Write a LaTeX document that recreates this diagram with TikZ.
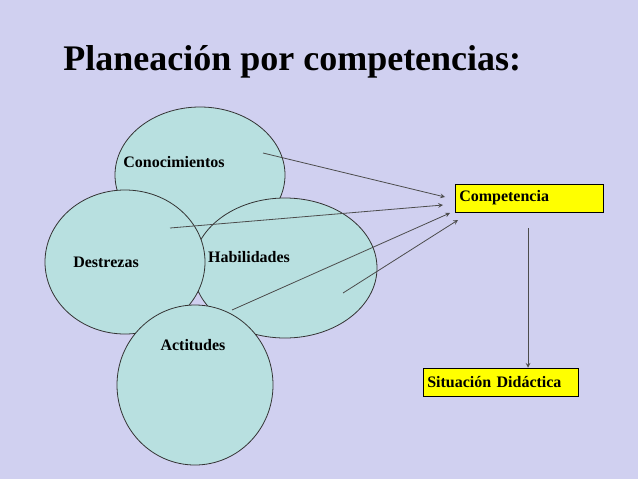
\documentclass[tikz,border=0pt]{standalone}
\usepackage{fontspec}
\setmainfont{Liberation Serif}
\definecolor{bg}{HTML}{D0D0F0}
\definecolor{cir}{HTML}{B8E0E0}
\definecolor{box}{HTML}{FFFF00}
\begin{document}
\begin{tikzpicture}[x=0.75pt,y=-0.75pt,
  blob/.style={draw=black!80,fill=cir,line width=0.6pt},
  lbl/.style={font=\bfseries\fontsize{12}{14}\selectfont,inner sep=0pt},
  tbox/.style={draw=black,fill=box,font=\bfseries\fontsize{12}{14}\selectfont,anchor=west,align=left,text width=#1,inner xsep=3pt,minimum height=21pt},
  arr/.style={->,>=stealth,draw=black!70,line width=0.6pt}]
\fill[bg] (0,0) rectangle (638,479);
\useasboundingbox (0,0) rectangle (638,479);
\node[anchor=west,font=\bfseries\fontsize{27}{31}\selectfont,inner sep=0pt] (title) at (63,62) {Planeación por competencias:};
\draw[blob] (200,175) ellipse [x radius=85, y radius=68];
\draw[blob] (285,268) ellipse [x radius=92, y radius=70];
\draw[blob] (125,262) ellipse [x radius=80, y radius=72];
\draw[blob] (195,385) ellipse [x radius=78, y radius=80];
\node[lbl] (con) at (174,162) {Conocimientos};
\node[lbl] (des) at (106,262) {Destrezas};
\node[lbl] (hab) at (249,257) {Habilidades};
\node[lbl] (act) at (193,345) {Actitudes};
\node[tbox=105pt] (comp) at (455,198) {Competencia};
\node[tbox=110pt] (sit) at (423,382) {Situación Didáctica};
\coordinate (a1) at (263,153); \coordinate (b1) at (445,197);
\coordinate (a2) at (170,228); \coordinate (b2) at (443,205);
\coordinate (a3) at (232,310); \coordinate (b3) at (450,213);
\coordinate (a4) at (343,293); \coordinate (b4) at (458,220);
\draw[arr] (a1) -- (b1);
\draw[arr] (a2) -- (b2);
\draw[arr] (a3) -- (b3);
\draw[arr] (a4) -- (b4);
\coordinate (v1) at (528,228);
\draw[arr] (v1) -- (sit.north -| v1);
\end{tikzpicture}
\end{document}
